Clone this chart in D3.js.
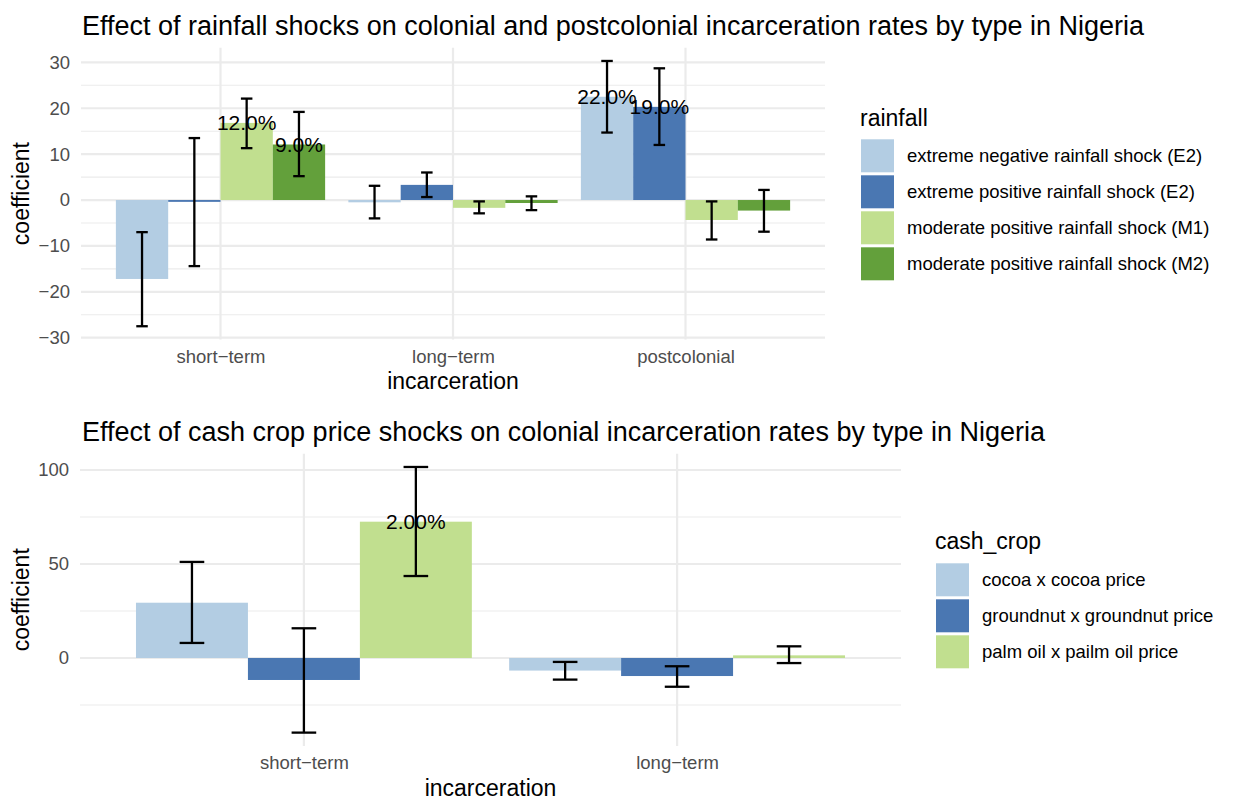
<!DOCTYPE html>
<html>
<head>
<meta charset="utf-8">
<script src="https://cdn.jsdelivr.net/npm/d3@7"></script>
<style>
  html, body { margin: 0; padding: 0; background: #fff; }
  text { font-family: "Liberation Sans", Arial, Helvetica, sans-serif; }
</style>
</head>
<body>
<svg id="chart" width="1235" height="812"></svg>
<script>
// ---------- Data: top panel (rainfall) ----------
const rainCategories = ["short\u2212term", "long\u2212term", "postcolonial"];
const rainSeries = [
  "extreme negative rainfall shock (E2)",
  "extreme positive rainfall shock (E2)",
  "moderate positive rainfall shock (M1)",
  "moderate positive rainfall shock (M2)"
];
const rainE2negValue = [-17.2, -0.5, 22.5];
const rainE2negLow   = [-27.5, -4.0, 14.7];
const rainE2negHigh  = [-7.0, 3.1, 30.3];
const rainE2negLabel = ["", "", "22.0%"];

const rainE2posValue = [-0.4, 3.3, 20.3];
const rainE2posLow   = [-14.4, 0.65, 12.0];
const rainE2posHigh  = [13.5, 6.0, 28.7];
const rainE2posLabel = ["", "", "19.0%"];

const rainM1Value = [16.8, -1.7, -4.35];
const rainM1Low   = [11.3, -2.9, -8.6];
const rainM1High  = [22.1, -0.3, -0.3];
const rainM1Label = ["12.0%", "", ""];

const rainM2Value = [12.1, -0.65, -2.3];
const rainM2Low   = [5.2, -2.2, -6.9];
const rainM2High  = [19.2, 0.8, 2.2];
const rainM2Label = ["9.0%", "", ""];

const rainTicks = [-30, -20, -10, 0, 10, 20, 30];

// ---------- Data: bottom panel (cash crop) ----------
const cropCategories = ["short\u2212term", "long\u2212term"];
const cropSeries = [
  "cocoa x cocoa price",
  "groundnut x groundnut price",
  "palm oil x pailm oil price"
];
const cocoaValue = [29.4, -6.7];
const cocoaLow   = [8.0, -11.5];
const cocoaHigh  = [51.1, -2.1];
const cocoaLabel = ["", ""];

const groundnutValue = [-11.7, -9.6];
const groundnutLow   = [-39.7, -15.3];
const groundnutHigh  = [15.8, -4.4];
const groundnutLabel = ["", ""];

const palmValue = [72.5, 1.4];
const palmLow   = [43.6, -2.7];
const palmHigh  = [101.6, 6.2];
const palmLabel = ["2.00%", ""];

const cropTicks = [0, 50, 100];

// ---------- Styles ----------
const colors4 = ["#b3cde3", "#4a77b2", "#c1df8f", "#63a03b"];
const colors3 = ["#b3cde3", "#4a77b2", "#c1df8f"];

function buildRows(categories, seriesNames, values, lows, highs, labels) {
  const rows = [];
  seriesNames.forEach((s, si) => {
    categories.forEach((c, ci) => {
      rows.push({cat: c, series: s, si: si, value: values[si][ci], low: lows[si][ci], high: highs[si][ci], label: labels[si][ci]});
    });
  });
  return rows;
}

const svg = d3.select("#chart");
svg.append("rect").attr("width", 1235).attr("height", 812).attr("fill", "#fff");

function drawPanel(opt) {
  const rows = buildRows(opt.categories, opt.series, opt.values, opt.lows, opt.highs, opt.labels);
  const allVals = rows.flatMap(r => [r.value, r.low, r.high, 0]);
  const mn = d3.min(allVals), mx = d3.max(allVals);
  const pad = (mx - mn) * 0.05;
  const y = d3.scaleLinear().domain([mn - pad, mx + pad]).range([opt.bottom, opt.top]);
  const x = d3.scalePoint().domain(opt.categories).range([opt.left, opt.right]).padding(0.6);
  const step = x.step();
  const inner = d3.scaleBand().domain(opt.series).range([-0.45 * step, 0.45 * step]).paddingInner(0).paddingOuter(0);
  const color = d3.scaleOrdinal().domain(opt.series).range(opt.colors);

  const g = svg.append("g");

  // minor grid
  const minor = [];
  for (let i = 0; i < opt.ticks.length - 1; i++) minor.push((opt.ticks[i] + opt.ticks[i + 1]) / 2);
  const step0 = opt.ticks[1] - opt.ticks[0];
  minor.unshift(opt.ticks[0] - step0 / 2);
  minor.push(opt.ticks[opt.ticks.length - 1] + step0 / 2);
  const [d0, d1] = y.domain();
  g.selectAll(".minor").data(minor.filter(v => v >= d0 && v <= d1)).enter().append("line")
    .attr("x1", opt.left).attr("x2", opt.right)
    .attr("y1", d => y(d)).attr("y2", d => y(d))
    .attr("stroke", "#ebebeb").attr("stroke-width", 1.1);

  // major grid y
  g.selectAll(".majory").data(opt.ticks).enter().append("line")
    .attr("x1", opt.left).attr("x2", opt.right)
    .attr("y1", d => y(d)).attr("y2", d => y(d))
    .attr("stroke", "#ebebeb").attr("stroke-width", 2.2);
  // major grid x
  g.selectAll(".majorx").data(opt.categories).enter().append("line")
    .attr("x1", d => x(d)).attr("x2", d => x(d))
    .attr("y1", opt.top).attr("y2", opt.bottom)
    .attr("stroke", "#ebebeb").attr("stroke-width", 2.2);

  // bars
  g.selectAll(".bar").data(rows).enter().append("rect")
    .attr("x", d => x(d.cat) + inner(d.series))
    .attr("width", inner.bandwidth())
    .attr("y", d => y(Math.max(0, d.value)))
    .attr("height", d => Math.abs(y(d.value) - y(0)))
    .attr("fill", d => color(d.series));

  // labels
  g.selectAll(".lab").data(rows.filter(d => d.label)).enter().append("text")
    .attr("x", d => x(d.cat) + inner(d.series) + inner.bandwidth() / 2)
    .attr("y", d => y(d.value))
    .attr("dy", "0.36em")
    .attr("text-anchor", "middle")
    .attr("font-size", 21)
    .attr("fill", "#000")
    .text(d => d.label);

  // error bars
  const cap = inner.bandwidth() * 0.22 / 2;
  const eb = g.selectAll(".eb").data(rows).enter().append("g");
  eb.append("line")
    .attr("x1", d => x(d.cat) + inner(d.series) + inner.bandwidth() / 2)
    .attr("x2", d => x(d.cat) + inner(d.series) + inner.bandwidth() / 2)
    .attr("y1", d => y(d.low)).attr("y2", d => y(d.high))
    .attr("stroke", "#000").attr("stroke-width", 2.3);
  ["low", "high"].forEach(k => {
    eb.append("line")
      .attr("x1", d => x(d.cat) + inner(d.series) + inner.bandwidth() / 2 - cap)
      .attr("x2", d => x(d.cat) + inner(d.series) + inner.bandwidth() / 2 + cap)
      .attr("y1", d => y(d[k])).attr("y2", d => y(d[k]))
      .attr("stroke", "#000").attr("stroke-width", 2.3);
  });

  // y axis tick labels
  const yAxis = d3.axisLeft(y).tickValues(opt.ticks).tickSize(0).tickPadding(0);
  const ya = svg.append("g").attr("transform", `translate(${opt.tickRight},0)`).call(yAxis);
  ya.select(".domain").remove();
  ya.selectAll("text").attr("font-size", 18.5).attr("fill", "#4d4d4d")
    .attr("font-family", "'Liberation Sans', Arial, Helvetica, sans-serif");

  // x axis tick labels
  const xAxis = d3.axisBottom(x).tickSize(0).tickPadding(0);
  const xa = svg.append("g").attr("transform", `translate(0,${opt.xTickY})`).call(xAxis);
  xa.select(".domain").remove();
  xa.selectAll("text").attr("font-size", 18.5).attr("fill", "#4d4d4d").attr("dy", 0).attr("y", 0)
    .attr("font-family", "'Liberation Sans', Arial, Helvetica, sans-serif");

  // axis titles
  svg.append("text").attr("x", (opt.left + opt.right) / 2).attr("y", opt.xTitleY)
    .attr("text-anchor", "middle").attr("font-size", 23).attr("fill", "#000").text("incarceration");
  svg.append("text").attr("transform", `translate(29,${(opt.top + opt.bottom) / 2}) rotate(-90)`)
    .attr("text-anchor", "middle").attr("font-size", 23).attr("fill", "#000").text("coefficient");

  // title
  svg.append("text").attr("x", 82).attr("y", opt.titleY).attr("font-size", 27).attr("fill", "#000").text(opt.title);

  // legend
  const lg = svg.append("g");
  lg.append("text").attr("x", opt.legX - 1).attr("y", opt.legTitleY).attr("font-size", 23).attr("fill", "#000").text(opt.legTitle);
  opt.series.forEach((s, i) => {
    const ky = opt.legKeyY + i * 36;
    lg.append("rect").attr("x", opt.legX).attr("y", ky).attr("width", 33).attr("height", 33).attr("fill", color(s));
    lg.append("text").attr("x", opt.legX + 46).attr("y", ky + 16.5).attr("dy", "0.35em")
      .attr("font-size", 18.5).attr("fill", "#000").text(s);
  });
}

drawPanel({
  categories: rainCategories, series: rainSeries,
  values: [rainE2negValue, rainE2posValue, rainM1Value, rainM2Value],
  lows: [rainE2negLow, rainE2posLow, rainM1Low, rainM2Low],
  highs: [rainE2negHigh, rainE2posHigh, rainM1High, rainM2High],
  labels: [rainE2negLabel, rainE2posLabel, rainM1Label, rainM2Label],
  ticks: rainTicks, colors: colors4,
  left: 81, right: 825, top: 47.7, bottom: 339.5,
  tickRight: 70, xTickY: 363, xTitleY: 389, titleY: 35,
  title: "Effect of rainfall shocks on colonial and postcolonial incarceration rates by type in Nigeria",
  legTitle: "rainfall", legX: 861, legTitleY: 126, legKeyY: 139.3
});

drawPanel({
  categories: cropCategories, series: cropSeries,
  values: [cocoaValue, groundnutValue, palmValue],
  lows: [cocoaLow, groundnutLow, palmLow],
  highs: [cocoaHigh, groundnutHigh, palmHigh],
  labels: [cocoaLabel, groundnutLabel, palmLabel],
  ticks: cropTicks, colors: colors3,
  left: 80, right: 901, top: 453.7, bottom: 745.9,
  tickRight: 69, xTickY: 769, xTitleY: 796, titleY: 441,
  title: "Effect of cash crop price shocks on colonial incarceration rates by type in Nigeria",
  legTitle: "cash_crop", legX: 936, legTitleY: 549, legKeyY: 563.3
});
</script>
</body>
</html>
